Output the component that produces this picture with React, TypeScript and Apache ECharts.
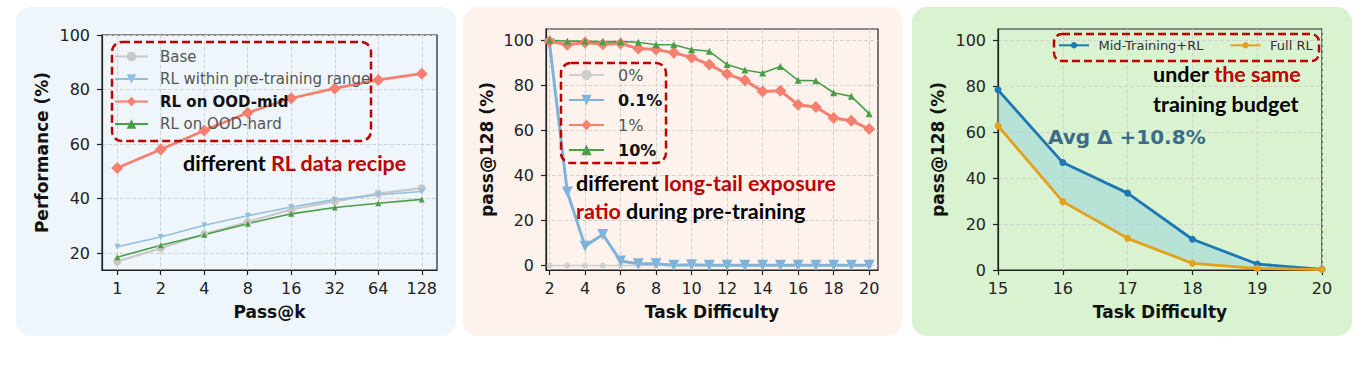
import React, { useEffect, useRef } from "react";
import * as echarts from "echarts";

// ---------- data ----------
const passK = ["1", "2", "4", "8", "16", "32", "64", "128"];
const baseVals = [16.9, 21.8, 27.0, 31.4, 36.0, 39.0, 41.8, 43.8];
const rlWithin = [22.3, 25.9, 30.2, 33.7, 36.9, 39.6, 41.4, 42.6];
const rlOodMid = [51.2, 58.0, 65.0, 71.5, 76.8, 80.4, 83.5, 85.8];
const rlOodHard = [18.5, 22.9, 26.7, 30.8, 34.4, 36.7, 38.3, 39.7];
const yTicks1 = [20, 40, 60, 80, 100];

const difficulty2 = [2, 3, 4, 5, 6, 7, 8, 9, 10, 11, 12, 13, 14, 15, 16, 17, 18, 19, 20];
const ratio0 = [0, 0, 0, 0, 0, 0, 0, 0, 0, 0, 0, 0, 0, 0, 0, 0, 0, 0, 0];
const ratio01 = [98.5, 32.6, 8.6, 13.8, 2.0, 0.8, 0.8, 0.1, 0.3, 0.1, 0.1, 0.1, 0.1, 0.1, 0.1, 0.1, 0.1, 0.1, 0.1];
const ratio1 = [99.6, 98.0, 99.0, 98.2, 98.6, 96.3, 95.9, 94.4, 92.4, 89.2, 85.0, 82.2, 77.3, 77.6, 71.4, 70.4, 65.5, 64.3, 60.6];
const ratio10 = [100, 99.6, 99.6, 99.3, 99.4, 99.1, 98.0, 98.0, 95.9, 95.1, 89.2, 86.8, 85.5, 88.4, 82.2, 82.0, 76.7, 75.1, 67.4];
const xTicks2 = [2, 4, 6, 8, 10, 12, 14, 16, 18, 20];
const yTicks = [0, 20, 40, 60, 80, 100];

const difficulty3 = [15, 16, 17, 18, 19, 20];
const midTrainRL = [78.5, 46.8, 33.5, 13.4, 2.6, 0.3];
const fullRL = [62.8, 29.8, 13.8, 2.9, 0.7, 0.2];
const xTicks3 = [15, 16, 17, 18, 19, 20];

// ---------- styles ----------
const FONT = "DejaVu Sans";
const ANNOT_FONT = "Lato";
const DARK_RED = "#c00000";

const axisBase = (gridIndex: number) => ({
  type: "value",
  gridIndex,
  nameLocation: "middle",
  nameTextStyle: { fontFamily: FONT, fontWeight: "bold", fontSize: 17, color: "#111" },
  axisLine: { show: true, onZero: false, lineStyle: { color: "#222", width: 1.2 } },
  splitLine: { show: true, lineStyle: { color: "#d2d2d2", type: [4, 2], width: 1 } },
});

const tickCfg = (vals: number[]) => ({
  show: true,
  inside: false,
  length: 5,
  customValues: vals,
  lineStyle: { color: "#222", width: 1.2 },
});

const labelCfg = (vals: number[], margin: number, formatter?: any) => ({
  customValues: vals,
  color: "#222",
  fontSize: 16,
  fontFamily: FONT,
  margin,
  ...(formatter ? { formatter } : {}),
});

const gridCfg = (left: number, top: number, width: number, height: number) => ({
  left,
  top,
  width,
  height,
  show: true,
  borderColor: "#222",
  borderWidth: 1.2,
  backgroundColor: "transparent",
});

const richAnnot = {
  a: { fill: "#000", fontFamily: ANNOT_FONT, fontWeight: "bold", fontSize: 21.5 },
  b: { fill: DARK_RED, fontFamily: ANNOT_FONT, fontWeight: "bold", fontSize: 21.5 },
};

export default function App() {
  const ref = useRef<HTMLDivElement>(null);

  useEffect(() => {
    if (!ref.current) return;
    const chart = echarts.init(ref.current, undefined, { renderer: "svg" });
    const idx1 = passK.map((_, i) => i);

    const bandData = difficulty3.map((d, i) => [d, midTrainRL[i], fullRL[i]]);

    const option: any = {
      animation: false,
      grid: [gridCfg(102, 35, 335, 235), gridCfg(546, 29, 332, 241), gridCfg(998, 29, 324, 241)],
      xAxis: [
        {
          ...axisBase(0),
          min: -0.35,
          max: 7.35,
          name: "Pass@k",
          nameGap: 33,
          axisTick: tickCfg(idx1),
          axisLabel: labelCfg(idx1, 10, (v: number) => passK[Math.round(v)]),
        },
        {
          ...axisBase(1),
          min: 1.8,
          max: 20.5,
          name: "Task Difficulty",
          nameGap: 33,
          axisTick: tickCfg(xTicks2),
          axisLabel: labelCfg(xTicks2, 10),
        },
        {
          ...axisBase(2),
          min: 15,
          max: 20,
          name: "Task Difficulty",
          nameGap: 33,
          axisTick: tickCfg(xTicks3),
          axisLabel: labelCfg(xTicks3, 10),
        },
      ],
      yAxis: [
        {
          ...axisBase(0),
          min: 13.8,
          max: 100,
          name: "Performance (%)",
          nameGap: 52,
          axisTick: tickCfg(yTicks1),
          axisLabel: labelCfg(yTicks1, 12),
        },
        {
          ...axisBase(1),
          min: -2,
          max: 105,
          name: "pass@128 (%)",
          nameGap: 51,
          axisTick: tickCfg(yTicks),
          axisLabel: labelCfg(yTicks, 12),
        },
        {
          ...axisBase(2),
          min: 0,
          max: 105,
          name: "pass@128 (%)",
          nameGap: 52,
          axisTick: tickCfg(yTicks),
          axisLabel: labelCfg(yTicks, 12),
        },
      ],
      legend: [
        {
          orient: "vertical",
          left: 114,
          top: 49,
          padding: 0,
          itemWidth: 33,
          itemHeight: 12,
          itemGap: 7.5,
          selectedMode: false,
          textStyle: { fontFamily: FONT, fontSize: 15, color: "#555", padding: [0, 0, 0, 7] },
          data: [
            { name: "Base" },
            { name: "RL within pre-training range" },
            { name: "RL on OOD-mid", textStyle: { color: "#111", fontWeight: "bold" } },
            { name: "RL on OOD-hard" },
          ],
        },
        {
          orient: "vertical",
          left: 568,
          top: 67,
          padding: 0,
          itemWidth: 35,
          itemHeight: 13,
          itemGap: 9,
          selectedMode: false,
          textStyle: { fontFamily: FONT, fontSize: 16, color: "#555", padding: [0, 0, 0, 9] },
          data: [
            { name: "0%" },
            { name: "0.1%", textStyle: { color: "#111", fontWeight: "bold" } },
            { name: "1%" },
            { name: "10%", textStyle: { color: "#111", fontWeight: "bold" } },
          ],
        },
        {
          orient: "horizontal",
          left: 1058,
          top: 38.8,
          padding: 0,
          itemWidth: 30,
          itemHeight: 8,
          itemGap: 26,
          selectedMode: false,
          textStyle: { fontFamily: FONT, fontSize: 13, color: "#333", padding: [0, 0, 0, 4.5] },
          data: [{ name: "Mid-Training+RL" }, { name: "Full RL" }],
        },
      ],
      series: [
        // panel 1
        {
          name: "Base",
          type: "line",
          xAxisIndex: 0,
          yAxisIndex: 0,
          data: baseVals.map((v, i) => [i, v]),
          symbol: "circle",
          symbolSize: 8,
          lineStyle: { color: "#c8c8c8", width: 2.2 },
          itemStyle: { color: "#c8c8c8" },
        },
        {
          name: "RL within pre-training range",
          type: "line",
          xAxisIndex: 0,
          yAxisIndex: 0,
          data: rlWithin.map((v, i) => [i, v]),
          symbol: "triangle",
          symbolRotate: 180,
          symbolSize: 6,
          lineStyle: { color: "#92bfe0", width: 1.6 },
          itemStyle: { color: "#92bfe0" },
        },
        {
          name: "RL on OOD-mid",
          type: "line",
          xAxisIndex: 0,
          yAxisIndex: 0,
          data: rlOodMid.map((v, i) => [i, v]),
          symbol: "diamond",
          symbolSize: 12,
          lineStyle: { color: "#f5806f", width: 2.8 },
          itemStyle: { color: "#f5806f" },
        },
        {
          name: "RL on OOD-hard",
          type: "line",
          xAxisIndex: 0,
          yAxisIndex: 0,
          data: rlOodHard.map((v, i) => [i, v]),
          symbol: "triangle",
          symbolSize: 6,
          lineStyle: { color: "#4a9e48", width: 1.6 },
          itemStyle: { color: "#4a9e48" },
        },
        // panel 2
        {
          name: "0%",
          type: "line",
          xAxisIndex: 1,
          yAxisIndex: 1,
          data: ratio0.map((v, i) => [difficulty2[i], v]),
          symbol: "circle",
          symbolSize: 6,
          lineStyle: { color: "#cfcfcf", width: 1.6 },
          itemStyle: { color: "#cfcfcf" },
        },
        {
          name: "0.1%",
          type: "line",
          xAxisIndex: 1,
          yAxisIndex: 1,
          data: ratio01.map((v, i) => [difficulty2[i], v]),
          symbol: "triangle",
          symbolRotate: 180,
          symbolSize: 11,
          lineStyle: { color: "#7fb3d9", width: 3 },
          itemStyle: { color: "#7fb3d9" },
        },
        {
          name: "1%",
          type: "line",
          xAxisIndex: 1,
          yAxisIndex: 1,
          data: ratio1.map((v, i) => [difficulty2[i], v]),
          symbol: "diamond",
          symbolSize: 12,
          lineStyle: { color: "#f5806f", width: 3 },
          itemStyle: { color: "#f5806f" },
        },
        {
          name: "10%",
          type: "line",
          xAxisIndex: 1,
          yAxisIndex: 1,
          data: ratio10.map((v, i) => [difficulty2[i], v]),
          symbol: "triangle",
          symbolSize: 7,
          lineStyle: { color: "#4a9e48", width: 1.6 },
          itemStyle: { color: "#4a9e48" },
        },
        // panel 3 fill between the two curves
        {
          name: "gap",
          type: "custom",
          xAxisIndex: 2,
          yAxisIndex: 2,
          silent: true,
          z: 1,
          encode: { x: 0, y: [1, 2] },
          data: bandData,
          renderItem: (params: any, api: any) => {
            if (params.dataIndex !== 0) return null;
            const upper = bandData.map((d) => api.coord([d[0], d[1]]));
            const lower = bandData.map((d) => api.coord([d[0], d[2]])).reverse();
            return {
              type: "polygon",
              shape: { points: upper.concat(lower) },
              style: { fill: "rgba(150, 212, 222, 0.5)", stroke: "none" },
            };
          },
        },
        {
          name: "Mid-Training+RL",
          type: "line",
          xAxisIndex: 2,
          yAxisIndex: 2,
          data: midTrainRL.map((v, i) => [difficulty3[i], v]),
          symbol: "circle",
          symbolSize: 7,
          lineStyle: { color: "#1f77b4", width: 2.8 },
          itemStyle: { color: "#1f77b4" },
        },
        {
          name: "Full RL",
          type: "line",
          xAxisIndex: 2,
          yAxisIndex: 2,
          data: fullRL.map((v, i) => [difficulty3[i], v]),
          symbol: "circle",
          symbolSize: 7,
          lineStyle: { color: "#e5a11c", width: 2.8 },
          itemStyle: { color: "#e5a11c" },
        },
      ],
      graphic: [
        // panel backgrounds
        { type: "rect", z: -10, silent: true, shape: { x: 16, y: 7, width: 440, height: 329, r: 15 }, style: { fill: "#eef5fb" } },
        { type: "rect", z: -10, silent: true, shape: { x: 463, y: 7, width: 440, height: 329, r: 15 }, style: { fill: "#fdf3ec" } },
        { type: "rect", z: -10, silent: true, shape: { x: 912, y: 7, width: 440, height: 329, r: 15 }, style: { fill: "#d9f2d0" } },
        // dashed legend boxes
        { type: "rect", z: 50, silent: true, shape: { x: 112, y: 42, width: 259, height: 99, r: 10 }, style: { fill: "none", stroke: DARK_RED, lineWidth: 2.5, lineDash: [8, 4] } },
        { type: "rect", z: 50, silent: true, shape: { x: 561, y: 63, width: 105, height: 100, r: 10 }, style: { fill: "none", stroke: DARK_RED, lineWidth: 2.5, lineDash: [8, 4] } },
        { type: "rect", z: 50, silent: true, shape: { x: 1054, y: 34, width: 265, height: 27, r: 8 }, style: { fill: "none", stroke: DARK_RED, lineWidth: 2.5, lineDash: [8, 4] } },
        // annotations
        {
          type: "text",
          z: 60,
          x: 183,
          y: 163,
          style: { text: "{a|different }{b|RL data recipe}", verticalAlign: "middle", rich: richAnnot },
        },
        {
          type: "text",
          z: 60,
          x: 576,
          y: 183,
          style: { text: "{a|different }{b|long-tail exposure}", verticalAlign: "middle", rich: richAnnot },
        },
        {
          type: "text",
          z: 60,
          x: 576,
          y: 211,
          style: { text: "{b|ratio}{a| during pre-training}", verticalAlign: "middle", rich: richAnnot },
        },
        {
          type: "text",
          z: 60,
          x: 1153,
          y: 74,
          style: { text: "{a|under }{b|the same}", verticalAlign: "middle", rich: richAnnot },
        },
        {
          type: "text",
          z: 60,
          x: 1153,
          y: 104,
          style: {
            text: "training budget",
            verticalAlign: "middle",
            fill: "#000",
            fontFamily: ANNOT_FONT,
            fontWeight: "bold",
            fontSize: 21.5,
          },
        },
        {
          type: "text",
          z: 60,
          x: 1048,
          y: 137,
          style: {
            text: "Avg Δ +10.8%",
            verticalAlign: "middle",
            fill: "#3b6c88",
            fontFamily: FONT,
            fontWeight: "bold",
            fontSize: 20,
          },
        },
      ],
    };

    chart.setOption(option);
    return () => chart.dispose();
  }, []);

  return (
    <div
      ref={ref}
      style={{ position: "absolute", left: 0, top: 0, width: 1368, height: 371, background: "#fff" }}
    />
  );
}
